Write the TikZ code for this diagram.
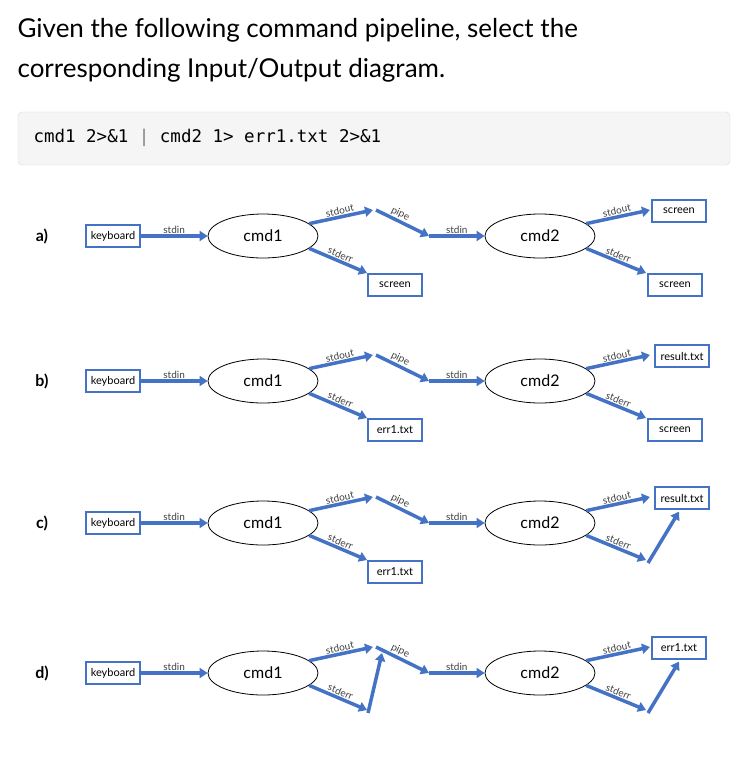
\documentclass[tikz,border=0pt]{standalone}
\usepackage{fontspec}
\setmainfont{Lato}
\setmonofont{DejaVu Sans Mono}
\usetikzlibrary{arrows.meta}
\definecolor{flow}{RGB}{68,114,196}
\tikzset{
  file/.style={draw=flow, line width=1.2pt, font=\fontsize{11}{13}\selectfont, minimum width=54pt, minimum height=22pt, inner sep=2pt},
  proc/.style={ellipse, draw, line width=0.8pt, minimum width=110pt, minimum height=44pt, font=\fontsize{16}{18}\selectfont},
  stream/.style={draw=flow, line width=3.5pt, -{Triangle[length=8pt,width=10pt]}},
  lbl/.style={sloped, above, inner sep=1pt, font=\fontsize{10}{11}\selectfont, text=black!75}
}
\usetikzlibrary{shapes.geometric}
\begin{document}
\begin{tikzpicture}[x=1pt,y=-1pt]
  \useasboundingbox (0,0) rectangle (741,757);
  \node[anchor=west, font=\fontsize{26}{30}\selectfont] (q1) at (14,30) {Given the following command pipeline, select the};
  \node[anchor=west, font=\fontsize{26}{30}\selectfont] (q2) at (14,70) {corresponding Input/Output diagram.};
  \node[draw=black!15, fill=black!4, rounded corners=4pt, minimum width=712pt, minimum height=53pt] (codebox) at (374,138.5) {};
  \node[anchor=west, font=\ttfamily\fontsize{17.5}{20}\selectfont] (code) at (30,138) {cmd1 2>\&1 {\color{black!50}|} cmd2 1> err1.txt 2>\&1};
  % common part of each diagram
  \foreach \r/\y in {a/236,b/381,c/523,d/673} {
    \node[font=\bfseries\fontsize{16}{18}\selectfont] (opt\r) at (42,\y) {\r)};
    \node[file] (kb\r) at (113,\y) {keyboard};
    \node[proc] (cmd1\r) at (263,\y) {cmd1};
    \node[proc] (cmd2\r) at (540,\y) {cmd2};
    \coordinate (out1\r) at (373,\y-26);
    \coordinate (in2\r) at (429,\y);
    \coordinate (out2\r) at (650,\y-26);
    \coordinate (err1\r) at (367,\y+37);
    \coordinate (err2\r) at (646,\y+37);
    \draw[stream] (kb\r) -- node[lbl] {stdin} (cmd1\r);
    \draw[stream] (cmd1\r.15) -- node[lbl] {stdout} (out1\r);
    \draw[stream] ([xshift=3pt]out1\r) -- node[lbl, pos=0.4] {pipe} (in2\r);
    \draw[stream] (in2\r) -- node[lbl] {stdin} (cmd2\r);
    \draw[stream] (cmd1\r.-15) -- node[lbl] {stderr} (err1\r);
    \draw[stream] (cmd2\r.15) -- node[lbl] {stdout} (out2\r);
    \draw[stream] (cmd2\r.-15) -- node[lbl] {stderr} (err2\r);
  }
  % a)
  \node[file] (outa) at (679,211) {screen};
  \node[file] (errscra) at (395,285) {screen};
  \node[file] (errscr2a) at (675,285) {screen};
  % b)
  \node[file] (resb) at (682,356) {result.txt};
  \node[file] (errfb) at (395,430) {err1.txt};
  \node[file] (errscr2b) at (675,430) {screen};
  % c)
  \node[file] (resc) at (682,498) {result.txt};
  \node[file] (errfc) at (395,572) {err1.txt};
  \draw[stream] ([shift={(2,3)}]err2c) -- ([shift={(-3,2)}]resc.south);
  % d)
  \node[file] (errfd) at (679,648) {err1.txt};
  \draw[stream] ([shift={(1,3)}]err1d) -- ([shift={(9,6)}]out1d);
  \draw[stream] ([shift={(2,3)}]err2d) -- ([shift={(0,2)}]errfd.south);
\end{tikzpicture}
\end{document}
